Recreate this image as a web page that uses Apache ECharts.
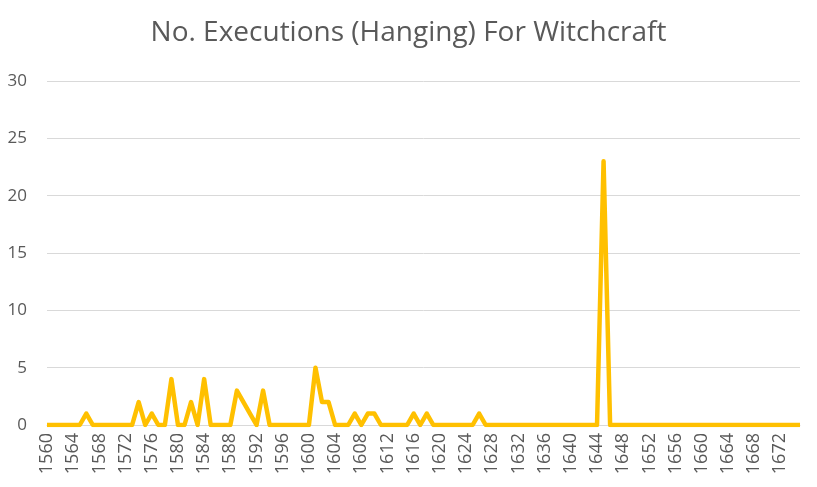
<!DOCTYPE html>
<html>
<head>
<meta charset="utf-8">
<script src="https://cdn.jsdelivr.net/npm/echarts@6/dist/echarts.min.js"></script>
<style>
  html, body { margin: 0; padding: 0; background: #fff; }
  #chart { width: 817px; height: 487px; }
</style>
</head>
<body>
<div id="chart"></div>
<script>
// years 1560..1675
const years = [];
for (let y = 1560; y <= 1675; y++) years.push(String(y));

// executions per year (zero where not listed)
const executions = [
  0, 0, 0, 0, 0, 0, 1, 0, 0, 0,   // 1560-1569
  0, 0, 0, 0, 2, 0, 1, 0, 0, 4,   // 1570-1579
  0, 0, 2, 0, 4, 0, 0, 0, 0, 3,   // 1580-1589
  2, 1, 0, 3, 0, 0, 0, 0, 0, 0,   // 1590-1599
  0, 5, 2, 2, 0, 0, 0, 1, 0, 1,   // 1600-1609
  1, 0, 0, 0, 0, 0, 1, 0, 1, 0,   // 1610-1619
  0, 0, 0, 0, 0, 0, 1, 0, 0, 0,   // 1620-1629
  0, 0, 0, 0, 0, 0, 0, 0, 0, 0,   // 1630-1639
  0, 0, 0, 0, 0, 23, 0, 0, 0, 0,  // 1640-1649
  0, 0, 0, 0, 0, 0, 0, 0, 0, 0,   // 1650-1659
  0, 0, 0, 0, 0, 0, 0, 0, 0, 0,   // 1660-1669
  0, 0, 0, 0, 0, 0                // 1670-1675
];

const chart = echarts.init(document.getElementById('chart'));
const font = 'Open Sans';
const grey = '#595959';

chart.setOption({
  animation: false,
  title: {
    text: 'No. Executions (Hanging) For Witchcraft',
    left: 'center',
    top: 19,
    padding: 0,
    textStyle: { fontFamily: font, fontSize: 28, fontWeight: 'normal', color: grey }
  },
  grid: { left: 47, right: 17, top: 81, bottom: 62, containLabel: false },
  xAxis: {
    type: 'category',
    data: years,
    boundaryGap: false,
    axisLine: { lineStyle: { color: '#d9d9d9', width: 1 } },
    axisTick: { show: false },
    axisLabel: {
      interval: 3,
      rotate: 90,
      margin: 8,
      fontFamily: font,
      fontSize: 18,
      color: grey
    }
  },
  yAxis: {
    type: 'value',
    min: 0,
    max: 30,
    interval: 5,
    axisLine: { show: false },
    axisTick: { show: false },
    splitLine: { lineStyle: { color: '#d9d9d9', width: 1 } },
    axisLabel: { fontFamily: font, fontSize: 17, color: grey, margin: 20 }
  },
  series: [{
    type: 'line',
    data: executions,
    symbol: 'none',
    lineStyle: { color: '#FFC000', width: 4.5, join: 'round' }
  }]
});
</script>
</body>
</html>
